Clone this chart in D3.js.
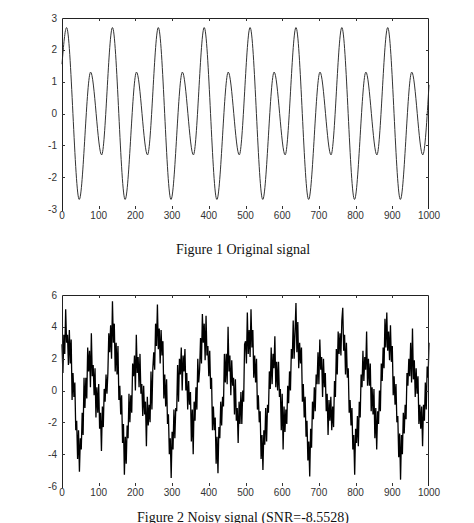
<!DOCTYPE html>
<html>
<head>
<meta charset="utf-8">
<script src="https://cdn.jsdelivr.net/npm/d3@7"></script>
<style>
  html, body { margin: 0; padding: 0; background: #fff; }
  svg { display: block; }
</style>
</head>
<body>
<svg id="chart" width="474" height="523"></svg>
<script>
// ---- Data ----
const xTicks = [0, 100, 200, 300, 400, 500, 600, 700, 800, 900, 1000];
const yTicksTop = [-3, -2, -1, 0, 1, 2, 3];
const yTicksBottom = [-6, -4, -2, 0, 2, 4, 6];

// Original signal: turning points (sample index, amplitude)
const origT = [0, 12.5, 47, 78, 108, 137.5, 172, 203, 233, 262.5, 297, 328, 358, 387.5, 422, 453, 483,
  512.5, 547, 578, 608, 637.5, 672, 703, 733, 762.5, 797, 828, 858, 887.5, 922, 953, 983, 1000];
const origV = [1.55, 2.7, -2.7, 1.3, -1.3, 2.7, -2.7, 1.3, -1.3, 2.7, -2.7, 1.3, -1.3, 2.7, -2.7, 1.3, -1.3,
  2.7, -2.7, 1.3, -1.3, 2.7, -2.7, 1.3, -1.3, 2.7, -2.7, 1.3, -1.3, 2.7, -2.7, 1.3, -1.3, 0.9];

// Noisy signal: values read every 2.5 samples (0..1000)
const noisyStep = 2.5;
const noisyV = [
  // 0 - 122.5
  2.9, 1.1, 3.5, 2.3, 5.1, 3.0, 3.5, 1.6, 3.8, 1.7, 3.2, -0.6, 1.1, -0.4, 0.5, -2.5, -1.9, -4.3, -2.5, -5.1,
  -3.0, -3.7, -1.4, -2.8, 0.8, -1.1, 0.8, -0.5, 2.7, 1.2, 2.5, 0.2, 3.6, 0.9, 1.6, -0.3, 1.4, -1.7, 0.2, -1.4,
  0.4, -2.4, -1.4, -3.8, -1.0, -2.3, 0.1, -0.7, 1.0, -0.2,
  // 125 - 247.5
  1.1, 3.6, 2.4, 4.1, 2.0, 5.6, 3.0, 4.2, 1.2, 3.0, 1.0, 2.8, -0.6, 0.3, -1.5, -0.3, -3.3, -2.1, -5.3, -2.9,
  -4.6, -2.2, -3.0, -0.2, -2.0, -0.3, -1.4, 1.7, 0.9, 2.2, 0.0, 3.5, 1.1, 2.1, 0.2, 2.3, -0.2, 0.4, -1.6, 0.3,
  -1.5, -0.7, -3.5, -0.4, -2.2, -0.9, -2.0, 1.2, -1.2, 1.4,
  // 250 - 372.5
  2.4, 1.3, 4.2, 2.8, 5.4, 2.6, 3.9, 1.7, 3.8, 2.2, 3.1, -0.5, 1.0, -1.0, 0.7, -2.1, -1.5, -4.0, -3.0, -5.5,
  -2.6, -3.7, -1.2, -3.0, -1.1, -1.3, 1.6, -0.7, 2.0, 1.0, 2.7, 0.0, 2.2, 1.2, 2.6, 0.0, 1.1, -1.2, 0.6, -0.9,
  -0.1, -3.2, -1.2, -4.0, -0.7, -1.9, 0.2, -1.2, 2.0, 0.5,
  // 375 - 497.5
  1.3, 3.3, 1.7, 4.8, 3.0, 4.2, 1.9, 4.7, 2.2, 2.8, 0.9, 2.5, 0.1, 0.8, -2.5, -1.0, -2.5, -1.7, -4.6, -2.9,
  -5.2, -2.3, -3.0, -0.7, -2.2, -0.4, -1.0, 2.3, 0.5, 2.3, 0.4, 4.0, 1.2, 2.2, -0.3, 1.9, 0.3, 0.8, -1.5, 0.7,
  -1.9, -1.1, -3.3, -0.7, -2.1, -0.1, -2.1, 0.0, -0.7, 2.9,
  // 500 - 622.5
  3.1, 1.7, 4.9, 2.3, 3.8, 2.1, 5.1, 2.7, 3.8, 0.8, 2.2, 0.5, 2.0, -1.2, -0.3, -2.0, -1.3, -4.3, -2.8, -5.0,
  -2.5, -3.4, -1.1, -3.2, -0.9, -1.4, 1.2, 0.1, 2.7, 0.4, 2.3, 1.4, 3.4, 0.2, 1.8, 0.0, 1.8, -0.4, 0.1, -2.5,
  -0.2, -3.7, -1.0, -2.6, -1.2, -2.1, 0.3, -0.8, 1.2, 0.0,
  // 625 - 747.5
  2.6, 2.0, 4.4, 2.0, 3.7, 5.5, 2.4, 4.3, 1.4, 3.0, 1.7, 2.7, -0.7, 0.4, -1.7, -0.4, -2.9, -1.9, -4.4, -3.2,
  -5.4, -2.4, -3.6, -0.7, -1.8, 0.2, -1.3, 1.0, 0.4, 2.4, 0.4, 3.2, 1.3, 2.1, -0.4, 2.0, 0.2, 1.1, -1.3, -0.2,
  -2.8, -0.6, -1.9, -0.4, -2.5, -1.0, -2.3, 0.6, -0.4, 2.6,
  // 750 - 872.5
  1.0, 3.7, 2.3, 3.6, 2.2, 4.4, 5.2, 2.5, 3.5, 1.0, 3.0, 0.8, 1.4, -1.4, -0.6, -2.2, -1.1, -3.7, -2.8, -5.3,
  -2.4, -3.3, -1.6, -3.5, -0.7, -1.7, 1.0, 0.2, 2.5, 0.6, 2.1, 1.3, 3.7, 0.3, 2.0, 0.3, 1.7, -1.3, 0.2, -1.5,
  0.1, -3.0, -1.1, -3.7, -1.3, -2.1, 0.0, -1.3, 1.7, 0.6,
  // 875 - 1000
  2.7, 1.4, 4.5, 2.7, 4.9, 2.5, 3.7, 1.9, 4.1, 1.8, 2.8, -0.3, 0.9, -0.9, 0.4, -2.0, -1.6, -4.2, -2.7, -5.6,
  -2.8, -4.0, -1.4, -2.7, -0.9, -1.8, 1.1, 0.3, 2.0, 0.9, 3.0, 0.5, 3.9, 0.7, 1.9, -0.4, 1.4, -0.2, 0.9, -2.1,
  -0.9, -2.4, -1.0, -3.5, -0.9, -1.9, 0.5, -1.2, 1.5, 0.8, 3.0
];

const captions = ["Figure 1 Original signal", "Figure 2 Noisy signal (SNR=-8.5528)"];

// ---- Drawing ----
const svg = d3.select("#chart");
const left = 62, right = 429;

function panel(top, bottom, yDomain, yTicks, series, style, captionText, captionY) {
  const x = d3.scaleLinear().domain([0, 1000]).range([left, right]);
  const y = d3.scaleLinear().domain(yDomain).range([bottom, top]);
  const g = svg.append("g");

  // data line
  g.append("path")
    .datum(series)
    .attr("fill", "none")
    .attr("stroke", style.stroke)
    .attr("stroke-width", style.width)
    .attr("stroke-linejoin", "miter")
    .attr("d", d3.line().x(d => x(d[0])).y(d => y(d[1])).curve(style.curve));

  // frame: left, top, right
  g.append("path")
    .attr("d", `M${left + 0.5},${bottom + 2}V${top + 0.5}H${right - 0.5}V${bottom}`)
    .attr("fill", "none").attr("stroke", "#222").attr("stroke-width", 1);

  const axisFont = "Liberation Sans, Arial, sans-serif";
  const tl = 3;
  xTicks.forEach(t => {
    const px = Math.round(x(t)) + 0.5;
    if (t !== 0 && t !== 1000) {
      g.append("line").attr("x1", px).attr("x2", px).attr("y1", bottom).attr("y2", bottom - tl)
        .attr("stroke", "#333");
      g.append("line").attr("x1", px).attr("x2", px).attr("y1", top).attr("y2", top + tl)
        .attr("stroke", "#333");
    }
    g.append("text").attr("x", x(t)).attr("y", bottom + 10)
      .attr("text-anchor", "middle")
      .attr("font-family", axisFont).attr("font-size", 10).attr("fill", "#333")
      .text(t);
  });
  yTicks.forEach(v => {
    const py = Math.round(y(v)) + 0.5;
    if (v !== yDomain[0] && v !== yDomain[1]) {
      g.append("line").attr("x1", left).attr("x2", left + tl).attr("y1", py).attr("y2", py)
        .attr("stroke", "#333");
      g.append("line").attr("x1", right).attr("x2", right - tl).attr("y1", py).attr("y2", py)
        .attr("stroke", "#333");
    }
    g.append("text").attr("x", left - 5).attr("y", y(v) + 3.5)
      .attr("text-anchor", "end")
      .attr("font-family", axisFont).attr("font-size", 10).attr("fill", "#333")
      .text(v);
  });

  svg.append("text").attr("x", 243).attr("y", captionY)
    .attr("text-anchor", "middle")
    .attr("font-family", "Liberation Serif, Times New Roman, serif")
    .attr("font-size", 14).attr("fill", "#111")
    .text(captionText);
}

const origSeries = origT.map((t, i) => [t, origV[i]]);
const noisySeries = noisyV.map((v, i) => [i * noisyStep, v]);

panel(18, 209, [-3, 3], yTicksTop, origSeries,
  { stroke: "#333", width: 1, curve: d3.curveMonotoneX }, captions[0], 253.5);
panel(295, 486, [-6, 6], yTicksBottom, noisySeries,
  { stroke: "#000", width: 1.3, curve: d3.curveLinear }, captions[1], 521.5);
</script>
</body>
</html>
